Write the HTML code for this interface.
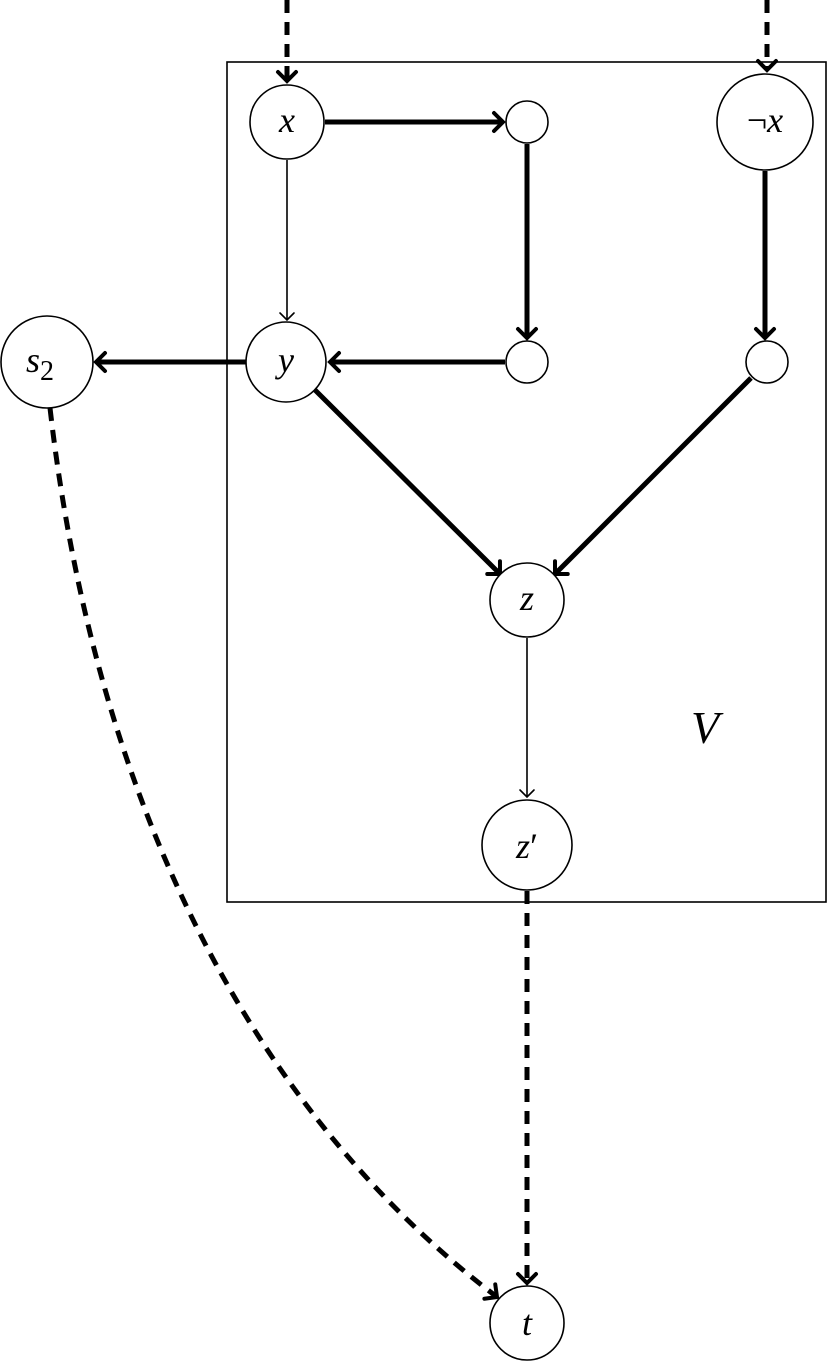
<!DOCTYPE html>
<html><head><meta charset="utf-8"><style>
html,body{margin:0;padding:0;background:#fff;}
svg{display:block;}
text{font-family:"Liberation Serif",serif;font-style:italic;}
</style></head><body>
<svg width="827" height="1362" viewBox="0 0 827 1362" xmlns="http://www.w3.org/2000/svg">
<defs>
<marker id="a" markerUnits="userSpaceOnUse" markerWidth="30" markerHeight="30" refX="0" refY="0" viewBox="-15 -15 30 30" orient="auto" overflow="visible">
<path d="M-9,-9 Q-2,-2 0,0 Q-2,2 -9,9" fill="none" stroke="#000" stroke-width="4" stroke-linecap="round"/>
</marker>
<marker id="b" markerUnits="userSpaceOnUse" markerWidth="20" markerHeight="20" refX="0" refY="0" viewBox="-10 -10 20 20" orient="auto" overflow="visible">
<path d="M-7,-7 Q-1.5,-1.5 0,0 Q-1.5,1.5 -7,7" fill="none" stroke="#000" stroke-width="1.6" stroke-linecap="round"/>
</marker>
</defs>
<rect x="227" y="62" width="599" height="840" fill="none" stroke="#000" stroke-width="1.6"/>
<g fill="none" stroke="#000">
<!-- thick -->
<g stroke-width="5" marker-end="url(#a)">
<line x1="325" y1="122" x2="503" y2="122"/>
<line x1="527" y1="144" x2="527" y2="338"/>
<line x1="765" y1="171" x2="765" y2="338"/>
<line x1="505" y1="362" x2="330" y2="362"/>
<line x1="246" y1="362" x2="96" y2="362"/>
<line x1="315" y1="390" x2="500" y2="574"/>
<line x1="751" y1="378" x2="555" y2="574"/>
</g>
<!-- thin -->
<g stroke-width="1.6" marker-end="url(#b)">
<line x1="287" y1="160" x2="287" y2="320"/>
<line x1="527" y1="638" x2="527" y2="797"/>
</g>
<!-- dashed -->
<g stroke-width="5" stroke-dasharray="13,9" marker-end="url(#a)">
<line x1="287" y1="0" x2="287" y2="81"/>
<line x1="767" y1="0" x2="767" y2="70"/>
<line x1="527" y1="891" x2="527" y2="1283"/>
<path d="M50,408 C 95,800 250,1110 497,1297"/>
</g>
</g>
<g fill="#fff" stroke="#000" stroke-width="1.6">
<circle cx="287" cy="122" r="37"/>
<circle cx="527" cy="122" r="21"/>
<circle cx="765" cy="122" r="48"/>
<circle cx="286" cy="362" r="40"/>
<circle cx="527" cy="362" r="21"/>
<circle cx="767" cy="362" r="21"/>
<circle cx="47" cy="362" r="46"/>
<circle cx="527" cy="600" r="37"/>
<circle cx="527" cy="845" r="45"/>
<circle cx="527" cy="1323" r="37"/>
</g>
<g font-size="36" text-anchor="middle">
<text x="287" y="132">x</text>
<text x="765" y="132"><tspan font-style="normal">¬</tspan>x</text>
<text x="286" y="372">y</text>
<text x="40" y="372">s<tspan font-style="normal" font-size="28" dy="8">2</tspan></text>
<text x="527" y="610">z</text>
<text x="527" y="858">z<tspan font-style="normal">′</tspan></text>
<text x="527" y="1335">t</text>
<text x="705" y="743" font-size="46">V</text>
</g>
</svg>
</body></html>
